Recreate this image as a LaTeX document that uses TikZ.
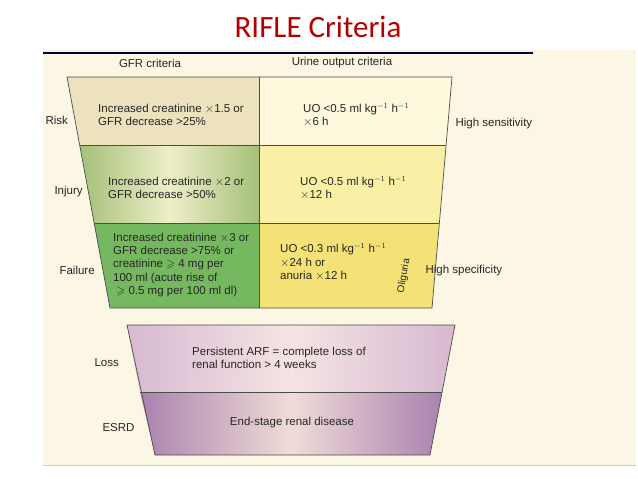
\documentclass[tikz,border=0pt]{standalone}
\usepackage{amssymb}
\usepackage{fontspec}
\setmainfont{Liberation Sans}
\newfontfamily\titlefont{Carlito}
\definecolor{panel}{RGB}{252,246,228}
\definecolor{riskL}{RGB}{236,226,190}
\definecolor{riskR}{RGB}{254,248,220}
\definecolor{injL}{RGB}{165,192,120}
\definecolor{injM}{RGB}{238,238,200}
\definecolor{injR}{RGB}{250,240,165}
\definecolor{failL}{RGB}{118,184,96}
\definecolor{failR}{RGB}{245,226,118}
\definecolor{lossE}{RGB}{215,185,208}
\definecolor{lossM}{RGB}{245,228,228}
\definecolor{esrdE}{RGB}{170,130,175}
\definecolor{esrdM}{RGB}{240,220,215}
\begin{document}
\begin{tikzpicture}[x=1pt,y=-1pt,
  lab/.style={font=\fontsize{11.5}{13}\selectfont, text=black!85},
  cell/.style={font=\fontsize{11.5}{13.3}\selectfont, align=left, text=black!85, inner sep=0},
  edge/.style={draw=black!70, line width=0.7pt}]
\useasboundingbox (0,0) rectangle (638,479);
\fill[white] (0,0) rectangle (638,479);
\fill[panel] (43,50) rectangle (636,465);
\draw[black!20, line width=0.8pt] (43,465) -- (636,465);
\draw[black!80!blue, line width=2pt] (43,53) -- (533,53);
\node[font=\titlefont\fontsize{31}{36}\selectfont, text=red!70!black] (title) at (318,27) {RIFLE Criteria};
% top funnel coordinates
\coordinate (a0) at (67,77); \coordinate (b0) at (452,77);
\coordinate (a1) at (80,145); \coordinate (b1) at (446,145);
\coordinate (a2) at (94,223); \coordinate (b2) at (439,223);
\coordinate (a3) at (110,308); \coordinate (b3) at (432,308);
\coordinate (m0) at (259,77); \coordinate (m3) at (259,308);
\fill[riskL] (a0) -- (m0) -- (259,145) -- (a1) -- cycle;
\fill[riskR] (m0) -- (b0) -- (b1) -- (259,145) -- cycle;
\shade[left color=injL, right color=injL, middle color=injM] (a1) -- (259,145) -- (259,223) -- (a2) -- cycle;
\fill[injR] (259,145) -- (b1) -- (b2) -- (259,223) -- cycle;
\fill[failL] (a2) -- (259,223) -- (m3) -- (a3) -- cycle;
\fill[failR] (259,223) -- (b2) -- (b3) -- (m3) -- cycle;
\draw[edge] (a0) -- (b0) -- (b3) -- (a3) -- cycle;
\draw[edge] (m0) -- (m3);
\draw[edge] (a1) -- (b1);
\draw[edge] (a2) -- (b2);
% bottom funnel
\coordinate (c0) at (127,325); \coordinate (d0) at (455,325);
\coordinate (c1) at (140,392); \coordinate (d1) at (442,392);
\coordinate (c2) at (155,455); \coordinate (d2) at (430,455);
\shade[left color=lossE, right color=lossE, middle color=lossM] (c0) -- (d0) -- (d1) -- (c1) -- cycle;
\shade[left color=esrdE, right color=esrdE, middle color=esrdM] (c1) -- (d1) -- (d2) -- (c2) -- cycle;
\draw[edge] (c0) -- (d0) -- (d2) -- (c2) -- cycle;
\draw[edge] (c1) -- (d1);
% headers
\node[lab] (gfr) at (150,63) {GFR criteria};
\node[lab] (uo) at (342,63) {Urine output criteria};
% row labels
\node[lab, anchor=west] (risk) at (42,120) {Risk};
\node[lab, anchor=west] (inj) at (51,192) {Injury};
\node[lab, anchor=west] (fail) at (56,270) {Failure};
\node[lab, anchor=west] (hs) at (452,124) {High sensitivity};
\node[lab, anchor=west] (hsp) at (422,271) {High specificity};
\node[lab, anchor=west] (loss) at (91,363) {Loss};
\node[lab, anchor=west] (esrd) at (99,428) {ESRD};
% cells
\node[cell, anchor=west] (r1) at (98,115) {Increased creatinine $\times$1.5 or\\GFR decrease >25\%};
\node[cell, anchor=west] (r2) at (303,115) {UO <0.5 ml kg$^{-1}$ h$^{-1}$\\$\times$6 h};
\node[cell, anchor=west] (i1) at (108,188) {Increased creatinine $\times$2 or\\GFR decrease >50\%};
\node[cell, anchor=west] (i2) at (300,188) {UO <0.5 ml kg$^{-1}$ h$^{-1}$\\$\times$12 h};
\node[cell, anchor=west] (f1) at (113,265) {Increased creatinine $\times$3 or\\GFR decrease >75\% or\\creatinine $\geqslant$ 4 mg per\\100 ml (acute rise of\\\ $\geqslant$ 0.5 mg per 100 ml dl)};
\node[cell, anchor=west] (f2) at (280,262) {UO <0.3 ml kg$^{-1}$ h$^{-1}$\\$\times$24 h or\\anuria $\times$12 h};
\node[cell, rotate=80, font=\fontsize{10}{11}\selectfont] (olig) at (404,276) {Oliguria};
\node[cell, anchor=west] (l1) at (192,358) {Persistent ARF = complete loss of\\renal function > 4 weeks};
\node[cell] (e1) at (292,423) {End-stage renal disease};
\end{tikzpicture}
\end{document}
